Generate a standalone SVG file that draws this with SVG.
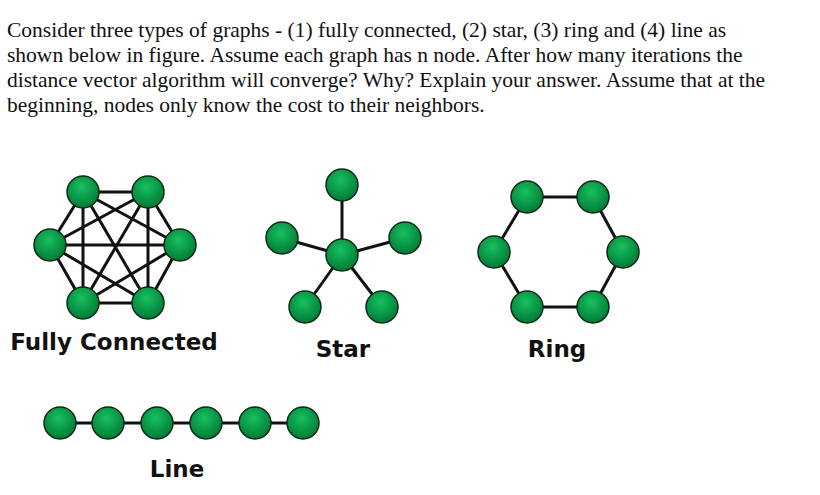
<svg xmlns="http://www.w3.org/2000/svg" width="820" height="495" viewBox="0 0 820 495">
<defs>
<radialGradient id="g" cx="0.45" cy="0.35" r="0.65">
<stop offset="0" stop-color="#17c060"/>
<stop offset="1" stop-color="#007a35"/>
</radialGradient>
<style>
.t{font-family:"Liberation Serif",serif;font-size:21.5px;fill:#111}
.l{font-family:"DejaVu Sans",sans-serif;font-weight:bold;font-size:23px;fill:#111}
.e line{stroke:#111;stroke-width:3}
circle{fill:url(#g);stroke:#0a2a15;stroke-width:1.5}
</style>
</defs>
<rect width="820" height="495" fill="#fff"/>
<text class="t" x="7" y="37">Consider three types of graphs - (1) fully connected, (2) star, (3) ring and (4) line as</text>
<text class="t" x="7" y="62">shown below in figure. Assume each graph has n node. After how many iterations the</text>
<text class="t" x="7" y="87">distance vector algorithm will converge? Why? Explain your answer. Assume that at the</text>
<text class="t" x="7" y="112">beginning, nodes only know the cost to their neighbors.</text>
<g id="connectors" class="e">
<line x1="83" y1="192" x2="148" y2="192"/><line x1="83" y1="192" x2="50" y2="245"/><line x1="83" y1="192" x2="180" y2="245"/><line x1="83" y1="192" x2="83" y2="303"/><line x1="83" y1="192" x2="148" y2="303"/>
<line x1="148" y1="192" x2="50" y2="245"/><line x1="148" y1="192" x2="180" y2="245"/><line x1="148" y1="192" x2="83" y2="303"/><line x1="148" y1="192" x2="148" y2="303"/>
<line x1="50" y1="245" x2="180" y2="245"/><line x1="50" y1="245" x2="83" y2="303"/><line x1="50" y1="245" x2="148" y2="303"/>
<line x1="180" y1="245" x2="83" y2="303"/><line x1="180" y1="245" x2="148" y2="303"/><line x1="83" y1="303" x2="148" y2="303"/>
<line x1="342" y1="255" x2="342" y2="185"/><line x1="342" y1="255" x2="282" y2="238"/><line x1="342" y1="255" x2="405" y2="238"/><line x1="342" y1="255" x2="305" y2="307"/><line x1="342" y1="255" x2="382" y2="307"/>
<line x1="527" y1="197" x2="593" y2="197"/><line x1="593" y1="197" x2="623" y2="252"/><line x1="623" y1="252" x2="593" y2="307"/><line x1="593" y1="307" x2="527" y2="307"/><line x1="527" y1="307" x2="494" y2="252"/><line x1="494" y1="252" x2="527" y2="197"/>
<line x1="60" y1="423" x2="303" y2="423"/>
</g>
<g id="fully"><circle cx="83" cy="192" r="16"/><circle cx="148" cy="192" r="16"/><circle cx="50" cy="245" r="16"/><circle cx="180" cy="245" r="16"/><circle cx="83" cy="303" r="16"/><circle cx="148" cy="303" r="16"/>
<text class="l" x="114" y="350" text-anchor="middle">Fully Connected</text></g>
<g id="star"><circle cx="342" cy="255" r="16"/><circle cx="342" cy="185" r="16"/><circle cx="282" cy="238" r="16"/><circle cx="405" cy="238" r="16"/><circle cx="305" cy="307" r="16"/><circle cx="382" cy="307" r="16"/>
<text class="l" x="343" y="357" text-anchor="middle">Star</text></g>
<g id="ring"><circle cx="527" cy="197" r="16"/><circle cx="593" cy="197" r="16"/><circle cx="494" cy="252" r="16"/><circle cx="623" cy="252" r="16"/><circle cx="527" cy="307" r="16"/><circle cx="593" cy="307" r="16"/>
<text class="l" x="557" y="357" text-anchor="middle">Ring</text></g>
<g id="line"><circle cx="60" cy="423" r="16"/><circle cx="108" cy="423" r="16"/><circle cx="157" cy="423" r="16"/><circle cx="206" cy="423" r="16"/><circle cx="255" cy="423" r="16"/><circle cx="303" cy="423" r="16"/>
<text class="l" x="177" y="477" text-anchor="middle">Line</text></g>
</svg>
